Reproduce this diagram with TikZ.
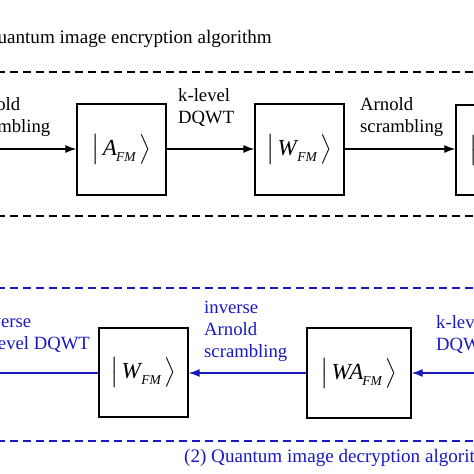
\documentclass[tikz,border=0pt]{standalone}
\usepackage{amsmath}
\usepackage{fontspec}
\setmainfont{Liberation Serif}
\usetikzlibrary{arrows.meta}
\definecolor{dblue}{RGB}{25,25,195}
\newcommand{\myket}[2]{$\big|$\kern3pt\textit{#1}\kern-1pt\raisebox{-6pt}{\fontsize{13.5}{14}\selectfont\itshape #2}\kern4pt$\big\rangle$}
\tikzset{
  kbox/.style={draw, line width=1.3pt, inner sep=0pt, font=\fontsize{23}{23}\selectfont},
  lbl/.style={align=left, inner sep=0pt, font=\fontsize{18.7}{22}\selectfont, anchor=west},
  arr/.style={-{Latex[length=11pt,width=8pt]}, line width=1.3pt},
  plain/.style={line width=1.3pt},
  dline/.style={line width=1.8pt, dash pattern=on 8pt off 5pt},
  ttl/.style={inner sep=0pt, font=\fontsize{19.1}{22}\selectfont}
}
\begin{document}
\begin{tikzpicture}[x=1pt,y=-1pt]
\useasboundingbox (0,0) rectangle (474,474);
\clip (0,0) rectangle (474,474);
\fill[white] (0,0) rectangle (474,474);
% ---------- top: encryption ----------
\node[ttl, anchor=base east] (t1) at (272,43) {(1) Quantum image encryption algorithm};
\coordinate (d1a) at (-3,72); \coordinate (d1b) at (480,72);
\coordinate (d2a) at (-3,216); \coordinate (d2b) at (480,216);
\draw[dline] (d1a) -- (d1b);
\draw[dline] (d2a) -- (d2b);
\node[kbox, minimum width=89pt, minimum height=91pt] (A) at (121.5,149.5) {\myket{A}{FM}};
\node[kbox, minimum width=89pt, minimum height=91pt] (W) at (299.5,149.5) {\myket{W}{FM}};
\node[kbox, minimum width=104pt, minimum height=90pt] (WA) at (508,150) {\myket{WA}{FM}};
\coordinate (in1) at (-5,149);
\draw[arr] (in1) -- (in1 -| A.west);
\draw[arr] (A.east |- 0,149) -- (W.west |- 0,149);
\draw[arr] (W.east |- 0,149) -- (WA.west |- 0,149);
\node[lbl] (l1) at (-33,117) {Arnold\\scrambling};
\node[lbl] (l2) at (178,108) {k-level\\DQWT};
\node[lbl] (l3) at (360,117) {Arnold\\scrambling};
% ---------- bottom: decryption ----------
\begin{scope}[dblue]
\coordinate (d3a) at (-3,288); \coordinate (d3b) at (480,288);
\coordinate (d4a) at (-3,441); \coordinate (d4b) at (480,441);
\draw[dline] (d3a) -- (d3b);
\draw[dline] (d4a) -- (d4b);
\node[lbl, dblue] (b1) at (-23,334) {inverse\\k-level DQWT};
\node[lbl, dblue] (b2) at (204,331) {inverse\\Arnold\\scrambling};
\node[lbl, dblue] (b3) at (436,335) {k-level\\DQWT};
\node[ttl, anchor=base west, dblue] (t2) at (184,462) {(2) Quantum image decryption algorithm};
\end{scope}
\node[kbox, minimum width=89pt, minimum height=89pt] (W2) at (143.5,372.5) {\myket{W}{FM}};
\node[kbox, minimum width=104pt, minimum height=90pt] (WA2) at (359,373) {\myket{WA}{FM}};
\coordinate (in2) at (480,373);
\coordinate (out2) at (-5,373);
\draw[arr, dblue] (in2) -- (in2 -| WA2.east);
\draw[arr, dblue] (WA2.west |- 0,373) -- (W2.east |- 0,373);
\draw[plain, dblue] (W2.west |- 0,373) -- (out2);
\end{tikzpicture}
\end{document}
